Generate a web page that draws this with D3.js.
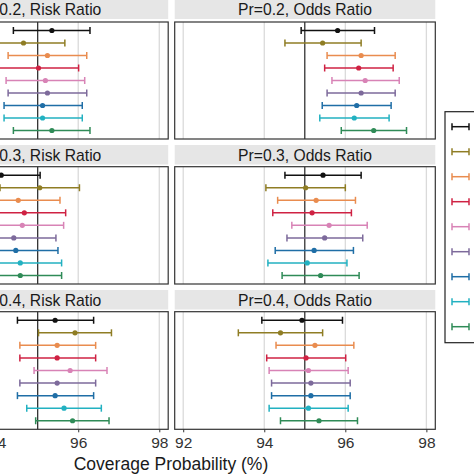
<!DOCTYPE html>
<html><head><meta charset="utf-8">
<script src="https://cdn.jsdelivr.net/npm/d3@7"></script>
<style>body{margin:0;background:#fff}svg{display:block}text{font-family:"Liberation Sans",Arial,sans-serif}</style>
</head><body><svg id="c" width="474" height="474"></svg>
<script>
const methods=["M1","M2","M3","M4","M5","M6","M7","M8","M9"];
const colors=["#111111","#8f7d24","#e98c4f","#cf2243","#d883b6","#7d6a9b","#1f6ea6","#22b1c1","#2f8b57"];
const panelTitles=["Pr=0.2, Risk Ratio","Pr=0.2, Odds Ratio","Pr=0.3, Risk Ratio","Pr=0.3, Odds Ratio","Pr=0.4, Risk Ratio","Pr=0.4, Odds Ratio"];
const xTicks=[92,94,96,98];
// [lower, estimate, upper] per method, per panel
const p02RR=[[94.40,95.35,96.29],[93.63,94.65,95.67],[94.27,95.24,96.21],[94.03,95.02,96.01],[94.22,95.19,96.16],[94.27,95.24,96.21],[94.17,95.12,96.10],[94.17,95.12,96.10],[94.40,95.35,96.29]];
const p02OR=[[94.91,95.81,96.72],[94.51,95.44,96.39],[95.55,96.39,97.23],[95.49,96.33,97.18],[95.67,96.49,97.33],[95.55,96.39,97.23],[95.43,96.28,97.13],[95.37,96.22,97.08],[95.90,96.70,97.51]];
const p03RR=[[93.15,94.10,95.06],[94.07,95.05,96.03],[93.49,94.52,95.55],[93.65,94.67,95.69],[93.60,94.62,95.64],[93.37,94.41,95.45],[93.42,94.46,95.50],[93.55,94.57,95.59],[93.55,94.57,95.59]];
const p03OR=[[94.51,95.45,96.39],[94.04,95.02,96.00],[94.33,95.28,96.25],[94.21,95.18,96.15],[94.68,95.60,96.54],[94.56,95.49,96.43],[94.27,95.23,96.20],[94.09,95.06,96.04],[94.44,95.39,96.34]];
const p04RR=[[94.50,95.43,96.38],[95.02,95.92,96.82],[94.56,95.48,96.43],[94.56,95.48,96.43],[94.91,95.80,96.71],[94.56,95.48,96.43],[94.50,95.43,96.38],[94.73,95.65,96.57],[94.95,95.86,96.76]];
const p04OR=[[93.94,94.93,95.93],[93.36,94.40,95.44],[94.29,95.25,96.21],[94.06,95.03,96.01],[94.12,95.09,96.07],[94.18,95.15,96.12],[94.18,95.15,96.12],[94.12,95.09,96.07],[94.40,95.35,96.30]];
const panelData=[p02RR,p02OR,p03RR,p03OR,p04RR,p04OR];

const svg=d3.select("#c");
const colX=[[-92.4,168.2],[174.7,435.3]];
const rowY=[[22,139],[166.7,284],[311.7,429.3]];
const stripY=[[-1,19],[145,164.5],[290,309.5]];
panelData.forEach((data,i)=>{
  const c=i%2,r=Math.floor(i/2);
  const [x0,x1]=colX[c],[y0,y1]=rowY[r];
  const x=d3.scaleLinear().domain([91.79,98.22]).range([x0,x1]);
  const y=d3.scalePoint().domain(methods).range([y0,y1]).padding(0.68);
  svg.append("rect").attr("x",x0).attr("y",stripY[r][0]).attr("width",x1-x0).attr("height",stripY[r][1]-stripY[r][0]).attr("fill","#e6e6e6");
  svg.append("text").attr("x",(x0+x1)/2).attr("y",stripY[r][1]-4).attr("text-anchor","middle").attr("font-size",15.7).attr("fill","#1a1a1a").text(panelTitles[i]);
  svg.append("rect").attr("x",x0).attr("y",y0).attr("width",x1-x0).attr("height",y1-y0).attr("fill","#fff");
  const g=svg.append("g");
  g.selectAll(".gl").data(xTicks).join("line").attr("x1",d=>x(d)).attr("x2",d=>x(d)).attr("y1",y0).attr("y2",y1).attr("stroke","#dadada").attr("stroke-width",1.3);
  g.append("line").attr("x1",x(95)).attr("x2",x(95)).attr("y1",y0).attr("y2",y1).attr("stroke","#222").attr("stroke-width",1.2);
  data.forEach((d,k)=>{
    const yy=y(methods[k]),col=colors[k];
    g.append("line").attr("x1",x(d[0])).attr("x2",x(d[2])).attr("y1",yy).attr("y2",yy).attr("stroke",col).attr("stroke-width",1.5);
    [d[0],d[2]].forEach(v=>g.append("line").attr("x1",x(v)).attr("x2",x(v)).attr("y1",yy-3.5).attr("y2",yy+3.5).attr("stroke",col).attr("stroke-width",1.5));
    g.append("circle").attr("cx",x(d[1])).attr("cy",yy).attr("r",2.6).attr("fill",col);
  });
  svg.append("rect").attr("x",x0).attr("y",y0).attr("width",x1-x0).attr("height",y1-y0).attr("fill","none").attr("stroke","#333").attr("stroke-width",1.2);
  if(r===2){
    const ax=svg.append("g").attr("transform",`translate(0,${y1})`).call(d3.axisBottom(x).tickValues(xTicks).tickSize(3).tickFormat(d3.format("d")));
    ax.select(".domain").remove();
    ax.selectAll("line").attr("stroke","#333");
    ax.selectAll("text").attr("font-size",15.5).attr("fill","#333").attr("dy","0.8em");
  }
});
svg.append("text").attr("x",171).attr("y",470).attr("text-anchor","middle").attr("font-size",17.5).attr("fill","#1a1a1a").text("Coverage Probability (%)");
// legend (labels lie beyond the visible crop)
const lg=svg.append("g");
lg.append("rect").attr("x",445).attr("y",111.7).attr("width",60).attr("height",231).attr("fill","#fff").attr("stroke","#222").attr("stroke-width",1.2);
methods.forEach((m,k)=>{
  const yy=126.7+k*25,col=colors[k];
  lg.append("line").attr("x1",452).attr("x2",469).attr("y1",yy).attr("y2",yy).attr("stroke",col).attr("stroke-width",1.5);
  [452,469].forEach(v=>lg.append("line").attr("x1",v).attr("x2",v).attr("y1",yy-3.5).attr("y2",yy+3.5).attr("stroke",col).attr("stroke-width",1.5));
});
</script></body></html>
